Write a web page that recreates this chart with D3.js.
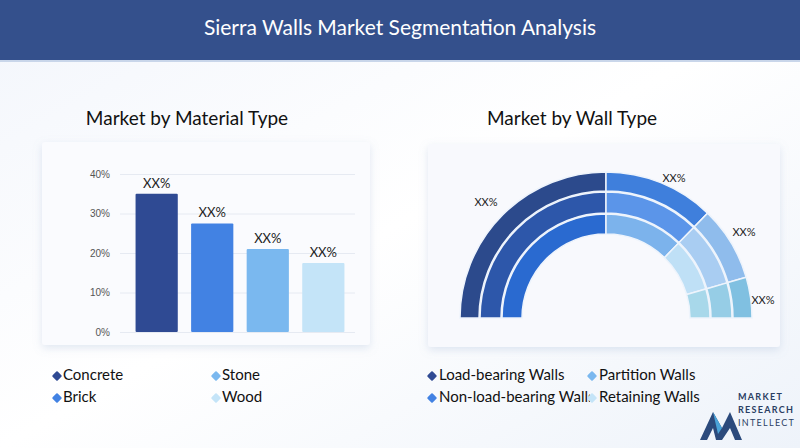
<!DOCTYPE html>
<html><head><meta charset="utf-8">
<script src="https://cdn.jsdelivr.net/npm/d3@7"></script>
<style>body{margin:0;background:#fff;}svg{display:block;font-family:Lato,"Noto Sans",sans-serif;}</style>
</head><body>
<svg id="c" width="800" height="448"></svg>
<script>
const materials = ["Concrete","Brick","Stone","Wood"];
const materialValues = [35, 27.5, 21, 17.5];
const materialColors = ["#2f4a93","#4282e3","#7ab8ef","#c4e4f8"];
const yTicks = [0,10,20,30,40];
const wallTypes = ["Load-bearing Walls","Non-load-bearing Walls","Partition Walls","Retaining Walls"];
const wallValues = [50, 24.5, 16.5, 9];
const ringColors = [
  ["#2a6ad0","#7cb3ec","#bfe0f6","#a8d8ea"],
  ["#2d57aa","#5b95e9","#a9cdf2","#96cde6"],
  ["#2c4a8c","#3f7fdc","#8fbcec","#80c0e1"]
];
const wallLegendColors = ["#2f4a93","#4282e3","#7ab8ef","#c4e4f8"];

const svg = d3.select("#c");
const defs = svg.append("defs");
const f = defs.append("filter").attr("id","sh").attr("x","-10%").attr("y","-10%").attr("width","120%").attr("height","130%");
f.append("feDropShadow").attr("dx",0).attr("dy",3).attr("stdDeviation",4).attr("flood-color","#8aa0c8").attr("flood-opacity",0.25);
const bg = defs.append("linearGradient").attr("id","bg").attr("x1",0).attr("y1",0).attr("x2",1).attr("y2",1);
bg.append("stop").attr("offset","0%").attr("stop-color","#f3f6fc");
bg.append("stop").attr("offset","50%").attr("stop-color","#ffffff");
bg.append("stop").attr("offset","100%").attr("stop-color","#eef3fa");
svg.append("rect").attr("width",800).attr("height",448).attr("fill","url(#bg)");
svg.append("rect").attr("width",800).attr("height",60).attr("fill","#34508c");
svg.append("rect").attr("y",60).attr("width",800).attr("height",2).attr("fill","#c9d6ea");
svg.append("text").attr("x",400).attr("y",30).attr("text-anchor","middle").attr("dominant-baseline","middle")
  .attr("fill","#fff").attr("font-size",21).text("Sierra Walls Market Segmentation Analysis");
svg.append("text").attr("x",187).attr("y",125).attr("text-anchor","middle").attr("font-size",19).attr("fill","#111").text("Market by Material Type");
svg.append("text").attr("x",572).attr("y",125).attr("text-anchor","middle").attr("font-size",19).attr("fill","#111").text("Market by Wall Type");

svg.append("rect").attr("x",42).attr("y",142).attr("width",328).attr("height",203).attr("rx",3).attr("fill","#fafbfe").attr("filter","url(#sh)");
svg.append("rect").attr("x",428).attr("y",144).attr("width",352).attr("height",203).attr("rx",3).attr("fill","#f8f9fd").attr("filter","url(#sh)");

const y = d3.scaleLinear().domain([0,40]).range([332,174]);
const x = d3.scaleBand().domain(materials).range([130,350]).paddingInner(0.24).paddingOuter(0.1);
const ax = svg.append("g").attr("transform","translate(120,0)")
  .call(d3.axisLeft(y).tickValues(yTicks).tickFormat(d=>d+"%").tickSize(-235).tickPadding(10));
ax.select(".domain").remove();
ax.selectAll("line").attr("stroke","#e6eaf2");
ax.selectAll("text").attr("fill","#555").attr("font-size",10);
svg.selectAll(".bar").data(materials).join("rect")
  .attr("x",d=>x(d)).attr("width",x.bandwidth())
  .attr("y",(d,i)=>y(materialValues[i])).attr("height",(d,i)=>y(0)-y(materialValues[i]))
  .attr("rx",1).attr("fill",(d,i)=>materialColors[i]);
svg.selectAll(".bl").data(materials).join("text")
  .attr("x",d=>x(d)+x.bandwidth()/2).attr("y",(d,i)=>y(materialValues[i])-6)
  .attr("text-anchor","middle").attr("font-size",13).attr("fill","#222").text("XX%");

const cx=606, cy=318;
const pie = d3.pie().sort(null).value(d=>d).startAngle(-Math.PI/2).endAngle(Math.PI/2);
const arcsData = pie(wallValues);
const rings = [[84,104],[105,126],[127,146]];
rings.forEach((r,ri)=>{
  const arc = d3.arc().innerRadius(r[0]).outerRadius(r[1]);
  svg.append("g").attr("transform",`translate(${cx},${cy})`).selectAll("path").data(arcsData).join("path")
    .attr("d",arc).attr("fill",(d,i)=>ringColors[ri][i]).attr("stroke","#eef4fc").attr("stroke-width",1.5);
});
const labelPos = [[486,203],[674,179],[744,233],[763,301]];
labelPos.forEach(p=>svg.append("text").attr("x",p[0]).attr("y",p[1]).attr("text-anchor","middle").attr("dominant-baseline","middle").attr("font-size",11).attr("fill","#222").text("XX%"));

function diamond(g,lx,ly,c){
  g.append("rect").attr("x",-3.6).attr("y",-3.6).attr("width",7.2).attr("height",7.2).attr("rx",1)
   .attr("transform",`translate(${lx},${ly}) rotate(45)`).attr("fill",c);
}
materials.forEach((t,i)=>{
  const [lx,ly]=[[57,376],[57,398],[216,376],[216,398]][i];
  diamond(svg,lx,ly,materialColors[i]);
  svg.append("text").attr("x",lx+6).attr("y",ly).attr("dominant-baseline","middle").attr("font-size",15).attr("fill","#111").text(t);
});
svg.append("defs").append("clipPath").attr("id","lc").append("rect").attr("x",420).attr("y",360).attr("width",170).attr("height",50);
const lg = svg.append("g");
wallTypes.forEach((t,i)=>{
  const pos=[[432,376],[432,398],[592,376],[592,398]][i];
  lg.append("text").attr("x",pos[0]+7).attr("y",pos[1]).attr("dominant-baseline","middle").attr("font-size",15).attr("fill","#111")
    .attr("clip-path", i==1?"url(#lc)":null).text(t);
  diamond(lg,pos[0],pos[1],wallLegendColors[i]);
});

const lgo = svg.append("g");
lgo.append("path").attr("d","M700,440 L713,412 L722,428 L730,412 L742,440 L735,440 L730,428 L722,440 L716,440 L713,428 L707,440 Z").attr("fill","#2b4a7c");
lgo.append("path").attr("d","M713,412 L722,428 L718,434 Z").attr("fill","#4aa3d8");
[["MARKET",400],["RESEARCH",413],["INTELLECT",426]].forEach((d,i)=>lgo.append("text").attr("x",738).attr("y",d[1]).attr("font-size",9).attr("font-weight",i<2?"bold":"normal").attr("letter-spacing",1.3).attr("fill","#2b3f63").text(d[0]));
</script></body></html>
